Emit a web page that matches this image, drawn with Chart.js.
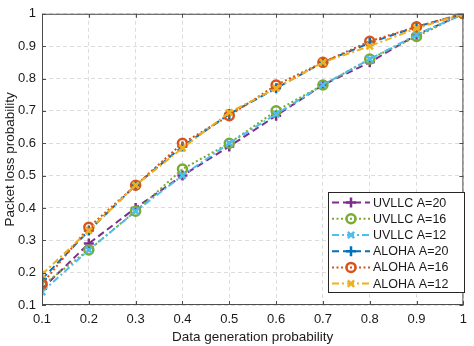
<!DOCTYPE html>
<html>
<head>
<meta charset="utf-8">
<script src="https://cdn.jsdelivr.net/npm/chart.js@4.4.1/dist/chart.umd.min.js"></script>
<style>
  html, body { margin: 0; padding: 0; background: #fff; }
  #wrap { width: 474px; height: 346px; }
</style>
</head>
<body>
<div id="wrap"><canvas id="myChart" width="474" height="346"></canvas></div>
<script>
// x values and curves
var genProb = [0.1, 0.2, 0.3, 0.4, 0.5, 0.6, 0.7, 0.8, 0.9, 1.0];
var uvllc20 = [0.15, 0.29, 0.40, 0.50, 0.59, 0.685, 0.78, 0.85, 0.935, 1.0];
var uvllc16 = [0.16, 0.27, 0.39, 0.52, 0.60, 0.70, 0.78, 0.86, 0.93, 1.0];
var uvllc12 = [0.14, 0.27, 0.39, 0.50, 0.60, 0.69, 0.78, 0.86, 0.935, 1.0];
var aloha20 = [0.18, 0.33, 0.47, 0.59, 0.69, 0.77, 0.85, 0.91, 0.96, 1.0];
var aloha16 = [0.165, 0.34, 0.47, 0.60, 0.685, 0.78, 0.85, 0.915, 0.96, 1.0];
var aloha12 = [0.195, 0.33, 0.47, 0.585, 0.695, 0.77, 0.85, 0.90, 0.955, 1.0];
var seriesNames = ['UVLLC A=20', 'UVLLC A=16', 'UVLLC A=12', 'ALOHA A=20', 'ALOHA A=16', 'ALOHA A=12'];
var xTicks = [0.1, 0.2, 0.3, 0.4, 0.5, 0.6, 0.7, 0.8, 0.9, 1];
var yTicks = [0.1, 0.2, 0.3, 0.4, 0.5, 0.6, 0.7, 0.8, 0.9, 1];

var FONT = "'Liberation Sans', Arial, sans-serif";
var dashed = [7, 4];
var dotted = [2, 2.5];
var dashDot = [7, 3, 2, 3];

function pts(arr) {
  return arr.map(function (v, i) { return { x: genProb[i], y: v }; });
}

var styles = [
  { color: '#7E2F8E', dash: dashed, marker: 'cross', r: 5, bw: 2.5 },
  { color: '#77AC30', dash: dotted, marker: 'circle', r: 4.5, bw: 2.5 },
  { color: '#4DBEEE', dash: dashDot, marker: 'crossRot', r: 4.5, bw: 2.5 },
  { color: '#0072BD', dash: dashed, marker: 'cross', r: 5, bw: 2.5 },
  { color: '#D95319', dash: dotted, marker: 'circle', r: 4.5, bw: 2.5 },
  { color: '#EDB120', dash: dashDot, marker: 'crossRot', r: 4.5, bw: 2.5 }
];
var allSeries = [uvllc20, uvllc16, uvllc12, aloha20, aloha16, aloha12];

var datasets = allSeries.map(function (s, i) {
  var st = styles[i];
  return {
    label: seriesNames[i],
    data: pts(s),
    borderColor: st.color,
    borderWidth: 2,
    borderDash: st.dash,
    pointStyle: st.marker,
    pointRadius: st.r,
    pointBorderWidth: st.bw,
    pointBorderColor: st.color,
    pointBackgroundColor: 'rgba(0,0,0,0)',
    fill: false,
    tension: 0,
    order: 6 - i
  };
});

// box round the axes with inward ticks, like matlab
var boxPlugin = {
  id: 'boxPlugin',
  afterDatasetsDraw: function (c) {
    var ctx = c.ctx, a = c.chartArea;
    var xs = c.scales.x, ys = c.scales.y;
    ctx.save();
    ctx.strokeStyle = '#4d4d4d';
    ctx.lineWidth = 1;
    ctx.setLineDash([]);
    ctx.strokeRect(a.left + 0.5, a.top + 0.5, a.right - a.left - 1, a.bottom - a.top - 1);
    ctx.beginPath();
    xTicks.forEach(function (t) {
      var px = Math.round(xs.getPixelForValue(t)) + 0.5;
      ctx.moveTo(px, a.bottom); ctx.lineTo(px, a.bottom - 4);
      ctx.moveTo(px, a.top); ctx.lineTo(px, a.top + 4);
    });
    yTicks.forEach(function (t) {
      var py = Math.round(ys.getPixelForValue(t)) + 0.5;
      ctx.moveTo(a.left, py); ctx.lineTo(a.left + 4, py);
      ctx.moveTo(a.right, py); ctx.lineTo(a.right - 4, py);
    });
    ctx.stroke();
    ctx.restore();
  }
};

// legend inside the axes, bottom right
var legendPlugin = {
  id: 'legendPlugin',
  afterDraw: function (c) {
    var ctx = c.ctx;
    var x0 = 328, y0 = 192, w = 136, h = 100;
    ctx.save();
    ctx.fillStyle = '#ffffff';
    ctx.fillRect(x0, y0, w, h);
    ctx.strokeStyle = '#262626';
    ctx.lineWidth = 1;
    ctx.strokeRect(x0 + 0.5, y0 + 0.5, w, h);
    ctx.font = '12.5px ' + FONT;
    ctx.textBaseline = 'middle';
    datasets.forEach(function (d, i) {
      var y = 202.6 + i * 16.2;
      ctx.strokeStyle = d.borderColor;
      ctx.lineWidth = 2;
      ctx.setLineDash(d.borderDash);
      ctx.beginPath();
      ctx.moveTo(332, y); ctx.lineTo(370, y);
      ctx.stroke();
      ctx.setLineDash([]);
      ctx.fillStyle = 'rgba(0,0,0,0)';
      ctx.lineWidth = d.pointBorderWidth;
      Chart.helpers.drawPoint(ctx, {
        pointStyle: d.pointStyle, radius: d.pointRadius, rotation: 0, borderWidth: d.pointBorderWidth
      }, 351, y);
      ctx.fillStyle = '#1a1a1a';
      ctx.fillText(seriesNames[i], 373, y + 0.5);
    });
    ctx.restore();
  }
};

var ctx = document.getElementById('myChart').getContext('2d');
var chart = new Chart(ctx, {
  type: 'line',
  data: { datasets: datasets },
  options: {
    responsive: false,
    animation: false,
    layout: { padding: { top: 8, right: 8, left: 0, bottom: 0 } },
    plugins: { legend: { display: false }, tooltip: { enabled: false } },
    scales: {
      x: {
        type: 'linear',
        min: 0.1, max: 1,
        afterBuildTicks: function (s) { s.ticks = xTicks.map(function (v) { return { value: v }; }); },
        afterFit: function (s) { s.height = 41; },
        grid: { color: '#dcdcdc', borderDash: [4, 3], drawTicks: false },
        border: { display: false, dash: [4, 3] },
        ticks: {
          padding: 7,
          color: '#1a1a1a',
          font: { family: FONT, size: 13 },
          maxRotation: 0,
          callback: function (v) { return String(+v.toFixed(1)); }
        },
        title: {
          display: true,
          text: 'Data generation probability',
          color: '#1a1a1a',
          font: { family: FONT, size: 13.5 },
          padding: { top: 0, bottom: 1 }
        }
      },
      y: {
        min: 0.1, max: 1,
        afterBuildTicks: function (s) { s.ticks = yTicks.map(function (v) { return { value: v }; }); },
        afterFit: function (s) { s.width = 42; },
        grid: { color: '#dcdcdc', drawTicks: false },
        border: { display: false, dash: [4, 3] },
        ticks: {
          padding: 6,
          color: '#1a1a1a',
          font: { family: FONT, size: 13 },
          callback: function (v) { return String(+v.toFixed(1)); }
        },
        title: {
          display: true,
          text: 'Packet loss probability',
          color: '#1a1a1a',
          font: { family: FONT, size: 13.5 },
          padding: { top: 2, bottom: 0 }
        }
      }
    }
  },
  plugins: [boxPlugin, legendPlugin]
});
</script>
</body>
</html>
